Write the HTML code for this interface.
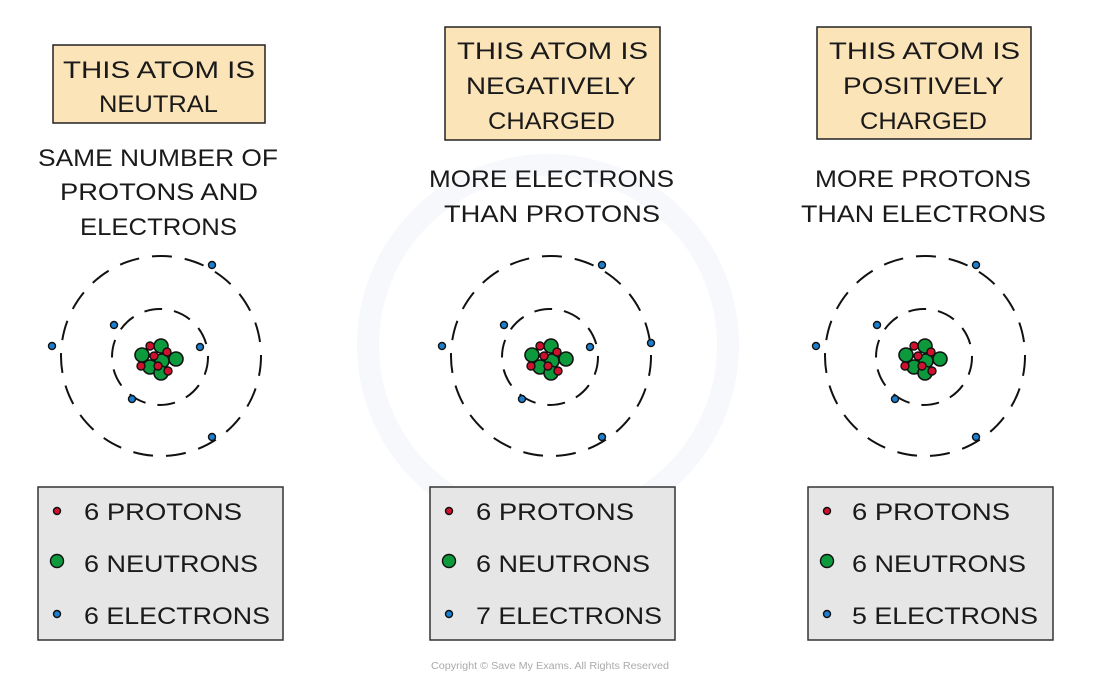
<!DOCTYPE html>
<html><head><meta charset="utf-8"><style>
html,body{margin:0;padding:0;background:#fff;}
svg{display:block}
text{font-family:"Liberation Sans",sans-serif;font-size:24px;fill:#1a1a1a;}
</style></head><body>
<svg width="1100" height="681" viewBox="0 0 1100 681" xmlns="http://www.w3.org/2000/svg">
<defs>
<g id="atom">
  <circle cx="161" cy="356" r="100" fill="none" stroke="#111" stroke-width="2" stroke-dasharray="20 13"/>
  <circle cx="160" cy="357" r="48" fill="none" stroke="#111" stroke-width="2" stroke-dasharray="18 12"/>
  <g fill="#0c9a3c" stroke="#111" stroke-width="1.6">
    <circle cx="142" cy="355" r="7"/>
    <circle cx="161" cy="346" r="7"/>
    <circle cx="162" cy="361" r="7"/>
    <circle cx="176" cy="359" r="7"/>
    <circle cx="150" cy="367" r="7"/>
    <circle cx="161" cy="373" r="7"/>
  </g>
  <g fill="#d0102c" stroke="#111" stroke-width="1.4">
    <circle cx="150" cy="346" r="4"/>
    <circle cx="167" cy="352" r="4"/>
    <circle cx="154" cy="356" r="4"/>
    <circle cx="141" cy="366" r="4"/>
    <circle cx="158" cy="366" r="4"/>
    <circle cx="168" cy="371" r="4"/>
  </g>
</g>
<g id="e"><circle r="3.5" fill="#1a7fd0" stroke="#111" stroke-width="1.4"/></g>
</defs>

<circle cx="548" cy="345" r="180" fill="none" stroke="#f6f8fb" stroke-width="22"/>

<rect x="53" y="45" width="212" height="78" fill="#fce4b9" stroke="#222" stroke-width="1.5"/>
<rect x="445" y="27" width="215" height="113" fill="#fce4b9" stroke="#222" stroke-width="1.5"/>
<rect x="817" y="27" width="214" height="112" fill="#fce4b9" stroke="#222" stroke-width="1.5"/>

<text x="63" y="78" textLength="192" lengthAdjust="spacingAndGlyphs">THIS ATOM IS</text>
<text x="99" y="112" textLength="119" lengthAdjust="spacingAndGlyphs">NEUTRAL</text>

<text x="457" y="59" textLength="191" lengthAdjust="spacingAndGlyphs">THIS ATOM IS</text>
<text x="466" y="94" textLength="170" lengthAdjust="spacingAndGlyphs">NEGATIVELY</text>
<text x="488" y="129" textLength="127" lengthAdjust="spacingAndGlyphs">CHARGED</text>

<text x="829" y="59" textLength="191" lengthAdjust="spacingAndGlyphs">THIS ATOM IS</text>
<text x="843" y="94" textLength="161" lengthAdjust="spacingAndGlyphs">POSITIVELY</text>
<text x="860" y="129" textLength="127" lengthAdjust="spacingAndGlyphs">CHARGED</text>

<text x="38" y="166" textLength="240" lengthAdjust="spacingAndGlyphs">SAME NUMBER OF</text>
<text x="60" y="200" textLength="198" lengthAdjust="spacingAndGlyphs">PROTONS AND</text>
<text x="80" y="235" textLength="157" lengthAdjust="spacingAndGlyphs">ELECTRONS</text>

<text x="429" y="187" textLength="245" lengthAdjust="spacingAndGlyphs">MORE ELECTRONS</text>
<text x="444" y="222" textLength="216" lengthAdjust="spacingAndGlyphs">THAN PROTONS</text>

<text x="815" y="187" textLength="216" lengthAdjust="spacingAndGlyphs">MORE PROTONS</text>
<text x="801" y="222" textLength="245" lengthAdjust="spacingAndGlyphs">THAN ELECTRONS</text>

<use href="#atom"/>
<use href="#atom" transform="translate(390,0)"/>
<use href="#atom" transform="translate(764,0)"/>

<use href="#e" x="52" y="346"/><use href="#e" x="114" y="325"/><use href="#e" x="200" y="347"/>
<use href="#e" x="132" y="399"/><use href="#e" x="212" y="265"/><use href="#e" x="212" y="437"/>
<use href="#e" x="442" y="346"/><use href="#e" x="504" y="325"/><use href="#e" x="590" y="347"/>
<use href="#e" x="522" y="399"/><use href="#e" x="602" y="265"/><use href="#e" x="602" y="437"/>
<use href="#e" x="651" y="343"/>
<use href="#e" x="816" y="346"/><use href="#e" x="877" y="325"/>
<use href="#e" x="895" y="399"/><use href="#e" x="976" y="265"/><use href="#e" x="976" y="437"/>

<g fill="#e6e6e6" stroke="#333" stroke-width="1.5">
<rect x="38" y="487" width="245" height="153"/>
<rect x="430" y="487" width="245" height="153"/>
<rect x="808" y="487" width="245" height="153"/>
</g>
<g stroke="#111" stroke-width="1.4">
<circle cx="57" cy="511" r="3.5" fill="#d0102c"/><circle cx="57" cy="561" r="6.5" fill="#0c9a3c"/><circle cx="57" cy="614" r="3.5" fill="#1a7fd0"/>
<circle cx="449" cy="511" r="3.5" fill="#d0102c"/><circle cx="449" cy="561" r="6.5" fill="#0c9a3c"/><circle cx="449" cy="614" r="3.5" fill="#1a7fd0"/>
<circle cx="827" cy="511" r="3.5" fill="#d0102c"/><circle cx="827" cy="561" r="6.5" fill="#0c9a3c"/><circle cx="827" cy="614" r="3.5" fill="#1a7fd0"/>
</g>
<text x="84" y="520" textLength="158" lengthAdjust="spacingAndGlyphs">6 PROTONS</text>
<text x="84" y="572" textLength="174" lengthAdjust="spacingAndGlyphs">6 NEUTRONS</text>
<text x="84" y="624" textLength="186" lengthAdjust="spacingAndGlyphs">6 ELECTRONS</text>
<text x="476" y="520" textLength="158" lengthAdjust="spacingAndGlyphs">6 PROTONS</text>
<text x="476" y="572" textLength="174" lengthAdjust="spacingAndGlyphs">6 NEUTRONS</text>
<text x="476" y="624" textLength="186" lengthAdjust="spacingAndGlyphs">7 ELECTRONS</text>
<text x="852" y="520" textLength="158" lengthAdjust="spacingAndGlyphs">6 PROTONS</text>
<text x="852" y="572" textLength="174" lengthAdjust="spacingAndGlyphs">6 NEUTRONS</text>
<text x="852" y="624" textLength="186" lengthAdjust="spacingAndGlyphs">5 ELECTRONS</text>

<text x="431" y="669" style="font-size:10px;fill:#aaa" textLength="238" lengthAdjust="spacingAndGlyphs">Copyright © Save My Exams. All Rights Reserved</text>
</svg>
</body></html>
